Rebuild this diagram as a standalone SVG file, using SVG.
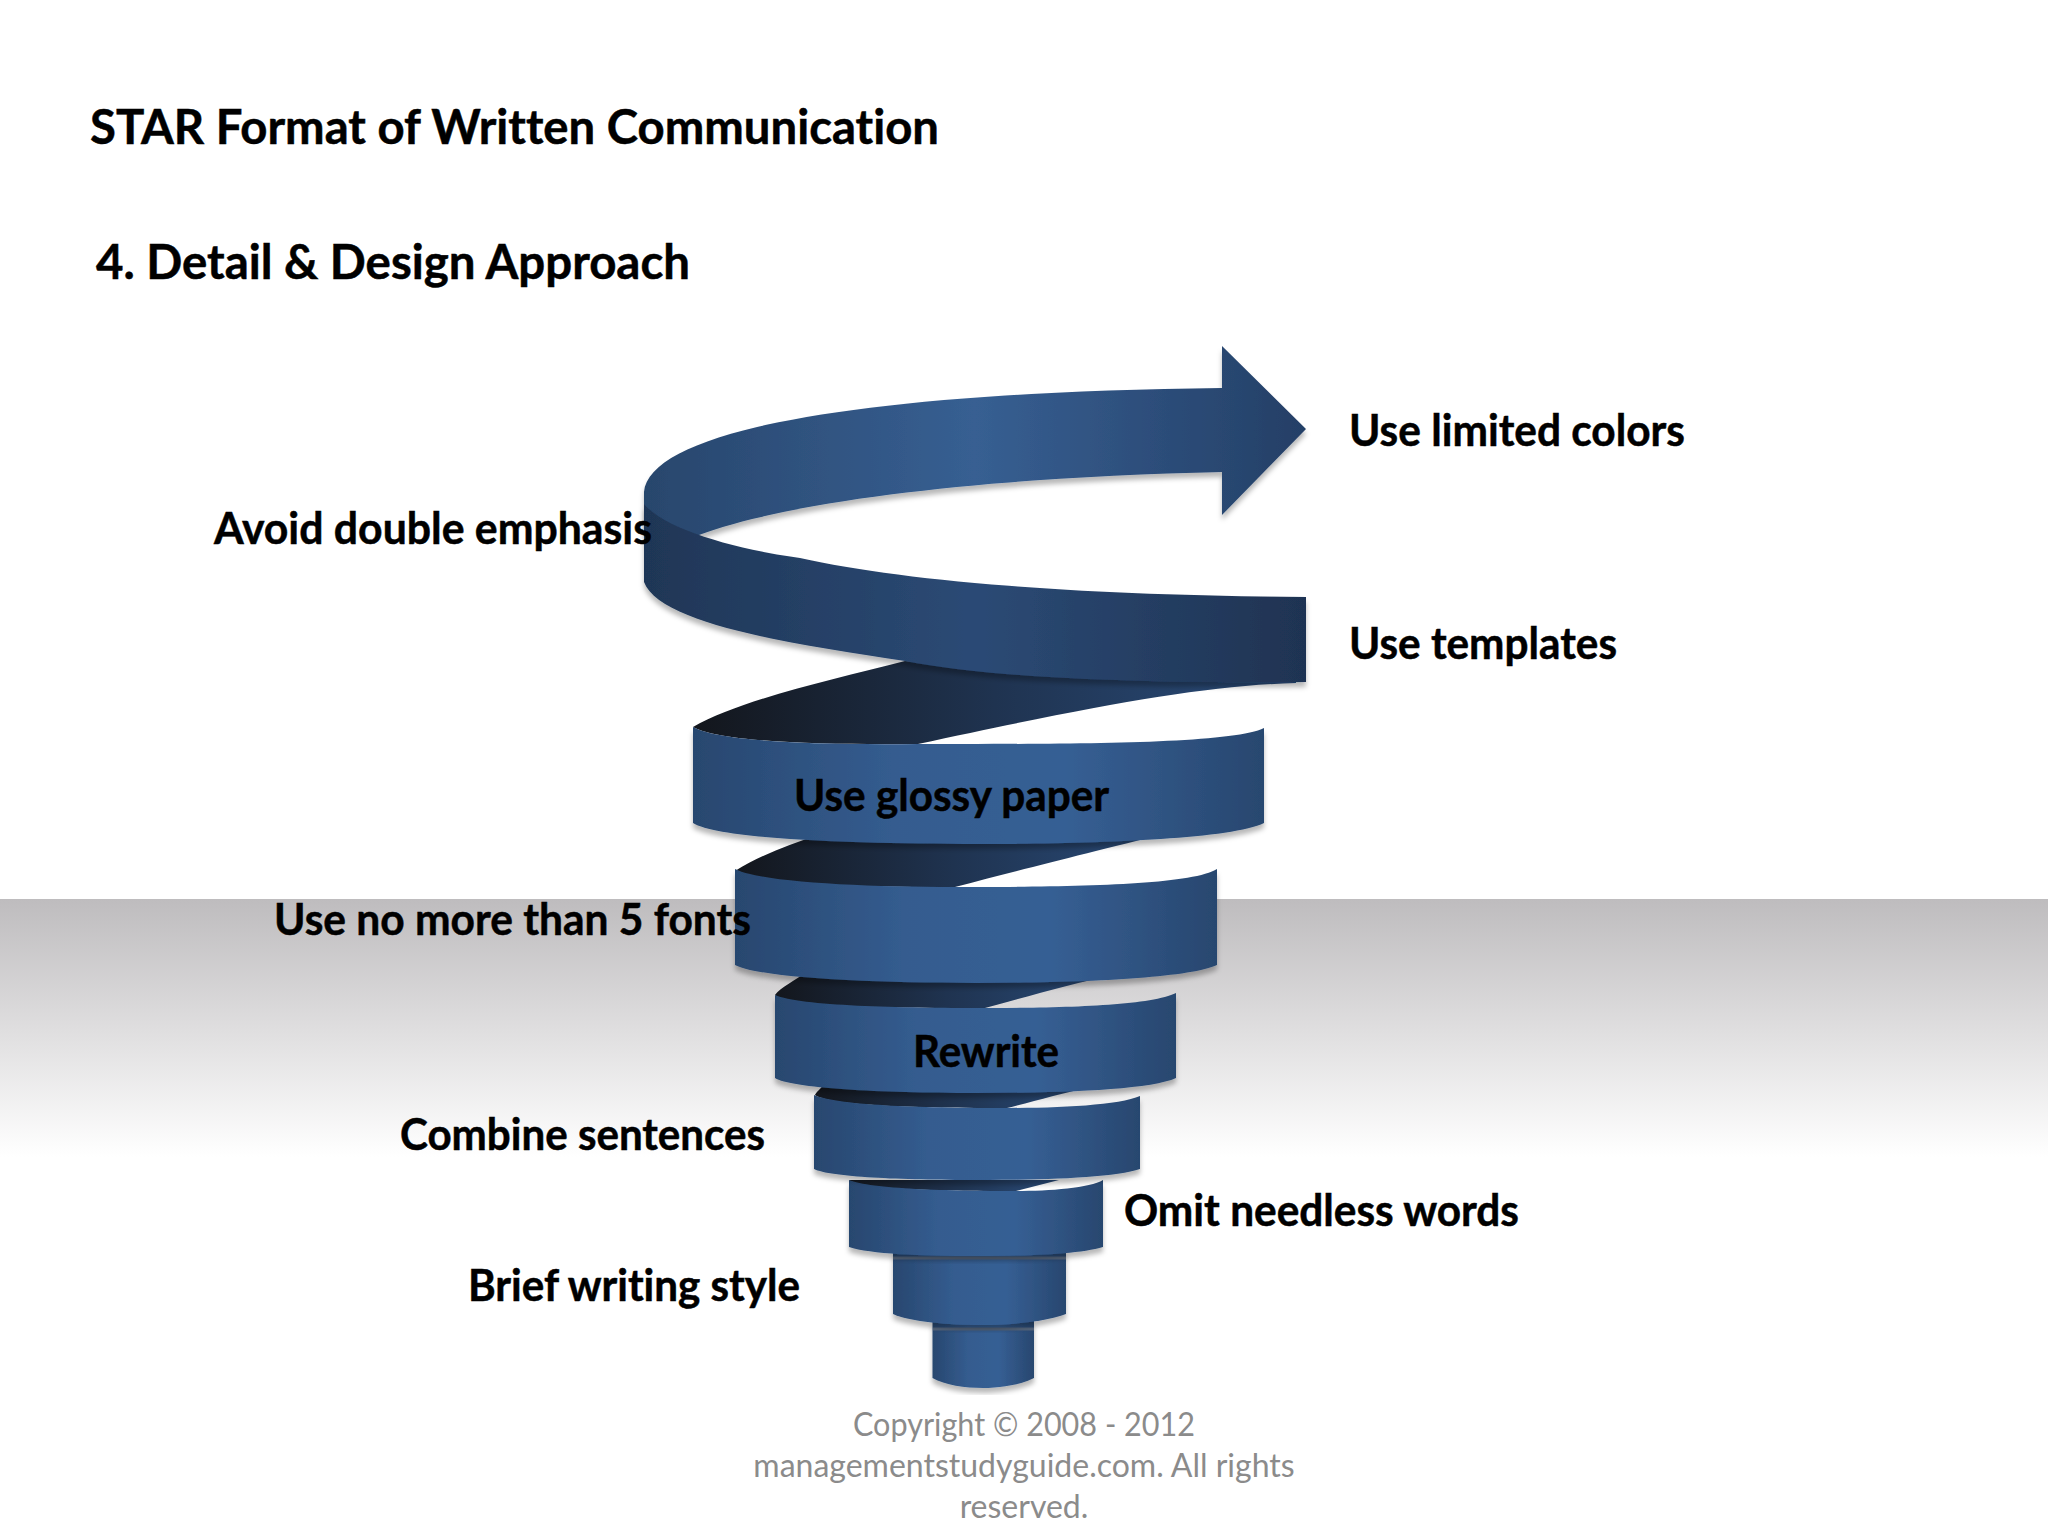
<svg xmlns="http://www.w3.org/2000/svg" width="2048" height="1536" viewBox="0 0 2048 1536">
<defs>
<linearGradient id="bg" x1="0" y1="0" x2="0" y2="1"><stop offset="0" stop-color="#bebcbe"/><stop offset="1" stop-color="#ffffff"/></linearGradient>
<linearGradient id="front"><stop offset="0" stop-color="#28476f"/><stop offset=".35" stop-color="#345c8f"/><stop offset=".65" stop-color="#365f94"/><stop offset="1" stop-color="#28476f"/></linearGradient>
<linearGradient id="arrow"><stop offset="0" stop-color="#28466c"/><stop offset=".5" stop-color="#375f92"/><stop offset="1" stop-color="#243f66"/></linearGradient>
<linearGradient id="fold"><stop offset="0" stop-color="#1f3656"/><stop offset=".5" stop-color="#2b4a75"/><stop offset="1" stop-color="#1f3352"/></linearGradient>
<linearGradient id="dark"><stop offset="0" stop-color="#13161c"/><stop offset=".5" stop-color="#1f3350"/><stop offset="1" stop-color="#2a4c7a"/></linearGradient>
<filter id="sh" x="-5%" y="-5%" width="110%" height="115%"><feDropShadow dx="0" dy="5" stdDeviation="2.5" flood-color="#000" flood-opacity=".28"/></filter>
</defs>
<style>
.t{font-family:"Lato","Liberation Sans",sans-serif;font-weight:700;fill:#000;stroke:#000;stroke-width:.5;font-variant-ligatures:none}
.h{font-size:48px}
.l{font-size:43px}
.c{font-family:"Lato","Liberation Sans",sans-serif;font-size:32px;fill:#8b8b8b;text-anchor:middle;font-variant-ligatures:none}
.f{fill:url(#front);filter:url(#sh)}
.d{fill:url(#dark)}
.g{fill:none;stroke:#54657c;stroke-width:3}
</style>
<rect width="2048" height="1536" fill="#fff"/>
<rect y="899" width="2048" height="258" fill="url(#bg)"/>
<g id="ribbon">
<g id="band9"><path class="f" d="M932.5 1320H1034V1378C1020 1385 1000 1388 983 1388C965 1388 945 1385 932.5 1378Z"/><path class="g" d="M933 1329H1034"/></g>
<g id="band8"><path class="f" d="M893 1250H1066V1314C1045 1322 1010 1325 980 1325C950 1325 910 1322 893 1314Z"/><path class="g" d="M893 1258H1066"/></g>
<g id="band7"><path class="d" d="M849 1180H1059L1016 1191C950 1191 860 1190 849 1180Z"/><path class="f" d="M849 1180C870 1189 950 1191 1016 1191C1050 1191 1090 1188 1103 1180V1247C1080 1254 1030 1256 976 1256C920 1256 870 1254 849 1247Z"/></g>
<g id="band6"><path class="d" d="M815 1095C816 1092 820 1090 823 1085L1090 1087C1060 1094 1035 1101 1007 1108C920 1108 830 1106 815 1095Z"/><path class="f" d="M814 1095C840 1106 930 1108 1007 1108C1060 1108 1120 1105 1140 1096V1169C1115 1178 1040 1180 977 1180C900 1180 830 1177 814 1169Z"/></g>
<g id="band5"><path class="d" d="M775 995C780 988 795 980 807 972L1118 974C1070 984 1030 996 985 1008C900 1008 790 1008 775 995Z"/><path class="f" d="M775 995C800 1006 900 1008 985 1008C1060 1008 1150 1006 1176 993V1078C1150 1090 1060 1093 975 1093C880 1093 790 1088 775 1078Z"/></g>
<g id="band4"><path class="d" d="M735 871C760 855 790 845 817 835L1172 832C1080 855 1020 870 955 887C860 887 760 885 735 871Z"/><path class="f" d="M735 869C760 882 860 887 955 887C1060 887 1190 886 1217 869V965C1190 978 1080 983 976 983C870 983 760 978 735 965Z"/></g>
<g id="band3"><path class="d" d="M693 727C740 700 830 680 905 661L1296 681V683C1200 686 1100 705 918 744C820 745 720 742 693 727Z"/><path class="f" d="M693 727C720 742 820 745 918 744C1050 744 1230 745 1264 728V823C1230 840 1080 844 978 844C870 844 720 840 693 823Z"/></g>
<g id="arrow-head"><path fill="url(#arrow)" filter="url(#sh)" d="M644 492C650 430 860 392 1222 388V346L1306 429L1222 515V472C1020 476 800 497 699 535L690 560L644 530Z"/></g>
<g id="band2"><path fill="url(#fold)" filter="url(#sh)" d="M644 504C665 530 740 550 800 558C900 580 1060 595 1306 597V682C1120 684 980 676 905 661C800 645 660 625 644 582Z"/></g>
</g>
<g id="labels">
<text class="t h" x="90" y="144" textLength="849" lengthAdjust="spacingAndGlyphs">STAR Format of Written Communication</text>
<text class="t h" x="96" y="279" textLength="594" lengthAdjust="spacingAndGlyphs">4. Detail &amp; Design Approach</text>
<text class="t l" x="1349" y="446" textLength="336" lengthAdjust="spacingAndGlyphs">Use limited colors</text>
<text class="t l" x="214" y="544" textLength="438" lengthAdjust="spacingAndGlyphs">Avoid double emphasis</text>
<text class="t l" x="1349" y="659" textLength="268" lengthAdjust="spacingAndGlyphs">Use templates</text>
<text class="t l" x="794" y="811" textLength="315" lengthAdjust="spacingAndGlyphs">Use glossy paper</text>
<text class="t l" x="274" y="935" textLength="477" lengthAdjust="spacingAndGlyphs">Use no more than 5 fonts</text>
<text class="t l" x="913" y="1067" textLength="146" lengthAdjust="spacingAndGlyphs">Rewrite</text>
<text class="t l" x="400" y="1150" textLength="365" lengthAdjust="spacingAndGlyphs">Combine sentences</text>
<text class="t l" x="1124" y="1226" textLength="395" lengthAdjust="spacingAndGlyphs">Omit needless words</text>
<text class="t l" x="468" y="1301" textLength="332" lengthAdjust="spacingAndGlyphs">Brief writing style</text>
</g>
<g id="copyright">
<text class="c" x="1024" y="1436" textLength="342" lengthAdjust="spacingAndGlyphs">Copyright © 2008 - 2012</text>
<text class="c" x="1024" y="1477">managementstudyguide.com. All rights</text>
<text class="c" x="1024" y="1518">reserved.</text>
</g>
</svg>
